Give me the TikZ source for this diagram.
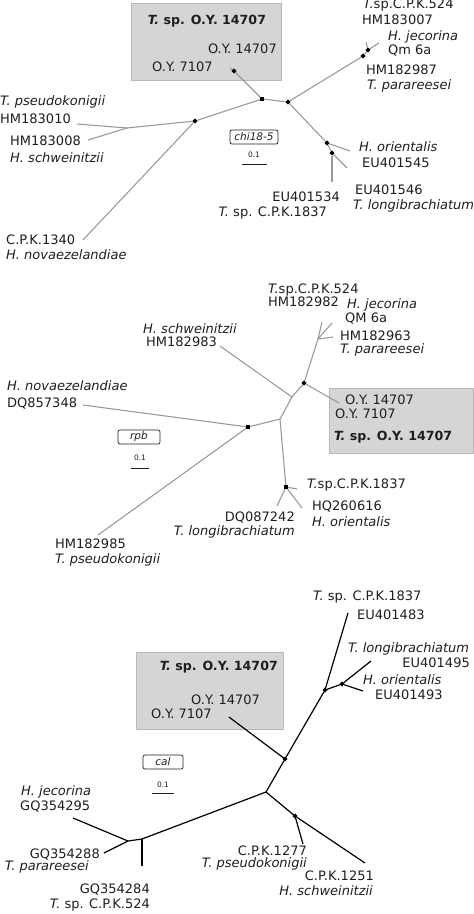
\documentclass[tikz,border=0pt]{standalone}
\usepackage{fontspec}
\setmainfont{DejaVu Sans}
\usetikzlibrary{shapes.geometric}
\definecolor{txt}{HTML}{1E1E1E}
\definecolor{brg}{HTML}{9A9A9A}
\definecolor{boxfill}{HTML}{D5D5D5}
\definecolor{boxline}{HTML}{B8B8B8}
\tikzset{
  lab/.style={inner sep=0pt, text=txt, font=\fontsize{13}{15}\selectfont},
  labl/.style={lab, anchor=mid west},
  labr/.style={lab, anchor=mid east},
  ttl/.style={lab, font=\fontsize{12.6}{14}\selectfont\bfseries},
  br/.style={draw=brg, line width=1.1pt},
  brk/.style={draw=black, line width=1.2pt},
  dm/.style={diamond, fill=black, inner sep=0pt, minimum size=5pt},
  sqm/.style={rectangle, fill=black, inner sep=0pt, minimum size=3.6pt},
  grbox/.style={fill=boxfill, draw=boxline, line width=0.8pt},
  genebox/.style={draw=txt, rounded corners=2pt, line width=0.7pt, inner sep=0pt, text=txt, font=\fontsize{10.5}{12}\selectfont\itshape},
  scl/.style={inner sep=0pt, text=txt, font=\fontsize{7.5}{8}\selectfont},
  sbar/.style={draw=txt, line width=1pt},
}
\begin{document}
\begin{tikzpicture}[x=1pt,y=-1pt]
\useasboundingbox (0,0) rectangle (474,914);
% ===================== chi18-5 tree =====================
\draw[grbox] (131,3) rectangle (281,80);
\node[ttl, anchor=mid] (t1) at (207,22) {\textit{T.} sp. O.Y. 14707};
\node[labr] (t1a) at (277,51) {O.Y. 14707};
\node[labl] (t1b) at (152,69) {O.Y. 7107};
\coordinate (a1) at (230,68);
\node[dm] (n1) at (234,71) {};
\node[sqm] (n2) at (262,99) {};
\node[dm] (n3) at (288,102) {};
\node[dm] (n4) at (363,56) {};
\node[dm] (n5) at (368,50) {};
\coordinate (l1) at (366,42);
\coordinate (l2) at (379,43);
\node[dm] (n6) at (195,121) {};
\coordinate (j1) at (127,128);
\coordinate (l3) at (77,124);
\coordinate (l4) at (88,140);
\coordinate (l5) at (83,240);
\node[dm] (n7) at (327,143) {};
\node[dm] (n8) at (332,153) {};
\coordinate (l6) at (350,151);
\coordinate (l7) at (347,168);
\coordinate (l8) at (332,182);
\draw[br] (n1) -- (a1);
\draw[br] (n1) -- (n2) -- (n3) -- (n4) -- (n5);
\draw[br] (n5) -- (l1);
\draw[br] (n5) -- (l2);
\draw[br] (n2) -- (n6) -- (j1) -- (l3);
\draw[br] (j1) -- (l4);
\draw[br] (n6) -- (l5);
\draw[br] (n3) -- (n7) -- (n8);
\draw[br] (n7) -- (l6);
\draw[br] (n8) -- (l7);
\draw[br] (n8) -- (l8);
\node[dm] at (n1) {};\node[sqm] at (n2) {};\node[dm] at (n3) {};\node[dm] at (n4) {};
\node[dm] at (n5) {};\node[dm] at (n6) {};\node[dm] at (n7) {};\node[dm] at (n8) {};
\node[labl] (c1) at (363,6) {\textit{T.}sp.C.P.K.524};
\node[labl] (c2) at (362,22) {HM183007};
\node[labl] (c3) at (388,38) {\textit{H. jecorina}};
\node[labl] (c4) at (388,52) {Qm 6a};
\node[labl] (c5) at (366,72) {HM182987};
\node[labl] (c6) at (367,87) {\textit{T. parareesei}};
\node[labl] (c7) at (0,103) {\textit{T. pseudokonigii}};
\node[labl] (c8) at (0,121) {HM183010};
\node[labl] (c9) at (10,143) {HM183008};
\node[labl] (c10) at (10,160) {\textit{H. schweinitzii}};
\node[labl] (c11) at (6,242) {C.P.K.1340};
\node[labl] (c12) at (6,257) {\textit{H. novaezelandiae}};
\node[labl] (c13) at (359,149) {\textit{H. orientalis}};
\node[labl] (c14) at (362,165) {EU401545};
\node[labl] (c15) at (355,192) {EU401546};
\node[labl] (c16) at (353,207) {\textit{T. longibrachiatum}};
\node[labr] (c17) at (340,199) {EU401534};
\node[labr] (c18) at (327,214) {\textit{T.} sp. C.P.K.1837};
\node[genebox, minimum width=48pt, minimum height=14pt] (g1) at (254,137) {chi18-5};
\node[scl] (s1) at (254,155) {0.1};
\draw[sbar] (242,164) -- (267,164);
% ===================== rpb tree =====================
\draw[grbox] (329,388) rectangle (473,453);
\node[labl] (u1) at (345,402) {O.Y. 14707};
\node[labl] (u2) at (335,416) {O.Y. 7107};
\node[ttl, anchor=mid west] (u3) at (334,438) {\textit{T.} sp. O.Y. 14707};
\node[dm] (m1) at (304,383) {};
\coordinate (mj1) at (292,397);
\coordinate (ml1) at (220,346);
\coordinate (mf1) at (318,339);
\coordinate (ml2) at (333,337);
\coordinate (ml3) at (322,322);
\coordinate (ml4) at (332,323);
\coordinate (ml5) at (339,403);
\coordinate (mj2) at (280,419);
\node[sqm] (m2) at (248,427) {};
\coordinate (ml6) at (83,405);
\coordinate (ml7) at (98,535);
\node[sqm] (m3) at (286,487) {};
\coordinate (ml8) at (297,489);
\coordinate (ml9) at (277,506);
\coordinate (ml10) at (302,508);
\draw[br] (m1) -- (mj1) -- (ml1);
\draw[br] (m1) -- (mf1) -- (ml3);
\draw[br] (mf1) -- (ml4);
\draw[br] (mf1) -- (ml2);
\draw[br] (m1) -- (ml5);
\draw[br] (mj1) -- (mj2) -- (m2) -- (ml6);
\draw[br] (m2) -- (ml7);
\draw[br] (mj2) -- (m3) -- (ml8);
\draw[br] (m3) -- (ml9);
\draw[br] (m3) -- (ml10);
\node[dm] at (m1) {};\node[sqm] at (m2) {};\node[sqm] at (m3) {};
\node[labl] (d1) at (268,291) {\textit{T.}sp.C.P.K.524};
\node[labl] (d2) at (268,304) {HM182982};
\node[labl] (d3) at (347,306) {\textit{H. jecorina}};
\node[labl] (d4) at (345,320) {QM 6a};
\node[labl] (d5) at (340,338) {HM182963};
\node[labl] (d6) at (340,351) {\textit{T. parareesei}};
\node[labl] (d7) at (143,331) {\textit{H. schweinitzii}};
\node[labl] (d8) at (146,344) {HM182983};
\node[labl] (d9) at (7,388) {\textit{H. novaezelandiae}};
\node[labl] (d10) at (7,405) {DQ857348};
\node[labl] (d11) at (307,486) {\textit{T.}sp.C.P.K.1837};
\node[labl] (d12) at (312,508) {HQ260616};
\node[labl] (d13) at (312,524) {\textit{H. orientalis}};
\node[labr] (d14) at (295,519) {DQ087242};
\node[labr] (d15) at (295,533) {\textit{T. longibrachiatum}};
\node[labl] (d16) at (55,546) {HM182985};
\node[labl] (d17) at (55,561) {\textit{T. pseudokonigii}};
\node[genebox, minimum width=42pt, minimum height=14pt] (g2) at (139,437) {rpb};
\node[scl] (s2) at (140,458) {0.1};
\draw[sbar] (131,468) -- (149,468);
% ===================== cal tree =====================
\draw[grbox] (136,652) rectangle (283,729);
\node[ttl, anchor=mid east] (v1) at (278,668) {\textit{T.} sp. O.Y. 14707};
\node[labl] (v2) at (191,702) {O.Y. 14707};
\node[labl] (v3) at (151,716) {O.Y. 7107};
\coordinate (bl1) at (348,613);
\node[dm] (b1) at (325,690) {};
\node[dm] (b2) at (342,684) {};
\coordinate (bl2) at (371,661);
\coordinate (bl3) at (363,691);
\node[dm] (b3) at (285,759) {};
\coordinate (bl4) at (229,717);
\coordinate (bj1) at (266,792);
\coordinate (bj2) at (142,839);
\coordinate (bj3) at (128,841);
\coordinate (bl5) at (142,866);
\coordinate (bl6) at (73,818);
\coordinate (bl7) at (104,853);
\node[dm] (b4) at (295,816) {};
\coordinate (bl8) at (365,863);
\coordinate (bl9) at (303,844);
\draw[brk] (bl1) -- (b1) -- (b3) -- (bj1) -- (bj2) -- (bj3) -- (bl6);
\draw[brk] (b1) -- (b2) -- (bl2);
\draw[brk] (b2) -- (bl3);
\draw[brk] (b3) -- (bl4);
\draw[brk] (bj2) -- (bl5);
\draw[brk] (bj3) -- (bl7);
\draw[brk] (bj1) -- (b4) -- (bl8);
\draw[brk] (b4) -- (bl9);
\node[dm] at (b1) {};\node[dm] at (b2) {};\node[dm] at (b3) {};\node[dm] at (b4) {};
\node[labl] (e1) at (313,598) {\textit{T.} sp. C.P.K.1837};
\node[labl] (e2) at (357,617) {EU401483};
\node[labl] (e3) at (348,650) {\textit{T. longibrachiatum}};
\node[labr] (e4) at (470,665) {EU401495};
\node[labl] (e5) at (363,682) {\textit{H. orientalis}};
\node[labl] (e6) at (375,697) {EU401493};
\node[labl] (e7) at (21,793) {\textit{H. jecorina}};
\node[labl] (e8) at (20,808) {GQ354295};
\node[labr] (e9) at (100,856) {GQ354288};
\node[labr] (e10) at (89,868) {\textit{T. parareesei}};
\node[labr] (e11) at (150,891) {GQ354284};
\node[labr] (e12) at (150,906) {\textit{T.} sp. C.P.K.524};
\node[labr] (e13) at (307,853) {C.P.K.1277};
\node[labr] (e14) at (307,865) {\textit{T. pseudokonigii}};
\node[labr] (e15) at (374,878) {C.P.K.1251};
\node[labr] (e16) at (373,893) {\textit{H. schweinitzii}};
\node[genebox, minimum width=40pt, minimum height=14pt] (g3) at (163,762) {cal};
\node[scl] (s3) at (163,785) {0.1};
\draw[sbar] (152,793) -- (174,793);
\end{tikzpicture}
\end{document}
